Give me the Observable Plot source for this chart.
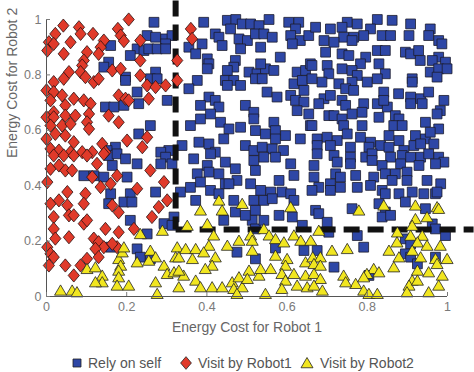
<!DOCTYPE html>
<html><head><meta charset="utf-8">
<script src="https://cdn.jsdelivr.net/npm/d3@7"></script>
<script src="https://cdn.jsdelivr.net/npm/@observablehq/plot@0.6"></script>
<style>
body{margin:0;background:#fff;font-family:"Liberation Sans",Arial,Helvetica,sans-serif;}
#chart svg{overflow:visible;display:block;}
#legend svg{display:block;}
</style></head><body>
<div id="chart"></div>
<div id="legend"></div>
<script>
const xTicks = [0, 0.2, 0.4, 0.6, 0.8, 1];
const yTicks = [0, 0.2, 0.4, 0.6, 0.8, 1];
const xLabel = "Energy Cost for Robot 1";
const yLabel = "Energy Cost for Robot 2";
const seriesNames = ["Rely on self", "Visit by Robot1", "Visit by Robot2"];

// decision boundary (thick dashed line)
const boundaryX = [0.322, 0.322, 0.322, 1.065];
const boundaryY = [1.069, 0.242, 0.242, 0.242];
const boundarySeg = ["v", "v", "h", "h"];

// Rely on self (blue squares)
const relyOnSelf = [
[0.268,0.990],[0.251,0.942],[0.272,0.936],[0.297,0.930],[0.313,0.942],[0.297,0.912],[0.226,0.894],[0.243,0.888],[0.255,0.894],[0.276,0.894],[0.297,0.894],[0.209,0.870],[0.160,0.906],[0.155,0.846],[0.143,0.828],[0.197,0.792],[0.197,0.780],[0.272,0.810],[0.259,0.786],[0.276,0.786],[0.226,0.738],[0.301,0.708],[0.230,0.696],[0.147,0.684],[0.168,0.684],[0.193,0.690],[0.259,0.617],[0.230,0.587],[0.305,0.527],[0.285,0.521],[0.172,0.539],[0.151,0.527],
[0.392,0.990],[0.451,0.997],[0.472,1.000],[0.488,0.984],[0.509,0.984],[0.530,0.978],[0.555,1.000],[0.604,0.990],[0.629,0.990],[0.621,0.966],[0.421,0.948],[0.430,0.936],[0.459,0.966],[0.480,0.930],[0.501,0.924],[0.521,0.948],[0.542,0.948],[0.563,0.936],[0.609,0.942],[0.633,0.924],[0.654,0.942],[0.388,0.912],[0.438,0.906],[0.484,0.894],[0.534,0.900],[0.613,0.912],[0.355,0.900],[0.372,0.876],[0.401,0.858],[0.405,0.840],[0.401,0.822],[0.471,0.852],[0.467,0.828],[0.451,0.816],[0.505,0.810],[0.525,0.804],[0.546,0.822],[0.534,0.840],[0.567,0.816],[0.583,0.864],[0.625,0.810],[0.646,0.816],[0.658,0.840],[0.376,0.780],[0.355,0.750],[0.446,0.780],[0.467,0.780],[0.451,0.762],[0.484,0.762],[0.521,0.786],[0.538,0.786],[0.550,0.738],[0.617,0.768],[0.638,0.780],[0.642,0.744],[0.609,0.726],[0.621,0.708],[0.642,0.702],[0.575,0.720],[0.405,0.720],[0.421,0.708],[0.384,0.690],[0.430,0.684],[0.409,0.659],[0.496,0.690],[0.517,0.665],[0.517,0.641],[0.384,0.641],[0.434,0.629],[0.359,0.617],[0.455,0.605],[0.484,0.611],[0.442,0.569],[0.521,0.599],[0.546,0.587],[0.567,0.629],[0.571,0.599],[0.571,0.569],[0.596,0.581],[0.633,0.569],[0.658,0.617],[0.654,0.659],[0.625,0.671],[0.338,0.545],[0.380,0.557],[0.405,0.551],[0.496,0.545],[0.517,0.527],[0.538,0.539],[0.563,0.533],[0.421,0.521],[0.591,0.527],
[0.825,1.000],[0.862,0.997],[0.908,0.984],[0.750,0.990],[0.775,0.984],[0.671,0.972],[0.708,0.966],[0.737,0.972],[0.808,0.966],[0.791,0.942],[0.766,0.936],[0.741,0.936],[0.837,0.942],[0.858,0.942],[0.904,0.942],[0.957,0.966],[0.953,0.942],[0.978,0.924],[0.986,0.912],[0.692,0.924],[0.717,0.918],[0.762,0.924],[0.696,0.882],[0.737,0.876],[0.754,0.870],[0.825,0.888],[0.845,0.888],[0.895,0.882],[0.908,0.876],[0.928,0.888],[0.932,0.852],[0.796,0.864],[0.783,0.840],[0.829,0.840],[0.978,0.864],[0.962,0.852],[0.995,0.846],[0.957,0.810],[0.978,0.822],[0.999,0.822],[0.974,0.792],[0.662,0.834],[0.700,0.834],[0.704,0.804],[0.737,0.822],[0.762,0.816],[0.775,0.798],[0.845,0.804],[0.687,0.774],[0.729,0.768],[0.762,0.774],[0.800,0.774],[0.825,0.786],[0.912,0.786],[0.912,0.774],[0.662,0.786],[0.746,0.750],[0.766,0.744],[0.841,0.738],[0.878,0.732],[0.908,0.720],[0.933,0.714],[0.953,0.738],[0.991,0.708],[0.908,0.696],[0.937,0.696],[0.982,0.671],[0.974,0.659],[0.692,0.714],[0.679,0.696],[0.708,0.726],[0.737,0.708],[0.746,0.690],[0.791,0.696],[0.825,0.696],[0.850,0.684],[0.841,0.708],[0.787,0.665],[0.762,0.659],[0.704,0.653],[0.717,0.653],[0.737,0.641],[0.829,0.647],[0.870,0.653],[0.879,0.641],[0.866,0.617],[0.887,0.617],[0.945,0.629],[0.978,0.605],[0.662,0.617],[0.741,0.617],[0.787,0.617],[0.675,0.569],[0.700,0.575],[0.725,0.563],[0.750,0.587],[0.783,0.575],[0.808,0.557],[0.833,0.545],[0.854,0.581],[0.879,0.563],[0.920,0.581],[0.945,0.569],[0.957,0.593],[0.966,0.551],[0.916,0.545],[0.675,0.545],[0.708,0.545],[0.758,0.539],[0.804,0.539],[0.854,0.539],[0.891,0.527],[0.933,0.551],
[0.155,0.509],[0.176,0.515],[0.164,0.473],[0.197,0.497],[0.226,0.479],[0.093,0.436],[0.118,0.436],[0.143,0.431],[0.201,0.431],[0.160,0.371],[0.209,0.371],[0.193,0.341],[0.213,0.341],[0.155,0.335],[0.272,0.377],[0.318,0.287],[0.293,0.263],[0.313,0.257],[0.209,0.275],[0.251,0.226],[0.226,0.172],[0.160,0.178],[0.234,0.142],[0.259,0.136],[0.297,0.503],[0.313,0.479],[0.285,0.479],
[0.367,0.497],[0.409,0.515],[0.446,0.485],[0.471,0.461],[0.401,0.473],[0.376,0.443],[0.384,0.413],[0.405,0.449],[0.430,0.443],[0.446,0.407],[0.475,0.419],[0.455,0.407],[0.359,0.394],[0.409,0.383],[0.430,0.371],[0.467,0.347],[0.517,0.491],[0.542,0.503],[0.521,0.455],[0.571,0.503],[0.609,0.479],[0.617,0.437],[0.580,0.419],[0.509,0.407],[0.534,0.383],[0.559,0.377],[0.587,0.377],[0.609,0.371],[0.517,0.347],[0.542,0.347],[0.563,0.353],[0.617,0.347],[0.521,0.311],[0.513,0.275],[0.521,0.244],[0.496,0.293],[0.542,0.275],[0.471,0.305],[0.442,0.275],[0.613,0.287],[0.638,0.257],[0.580,0.293],[0.372,0.347],[0.571,0.175],[0.475,0.160],[0.521,0.136],[0.642,0.166],[0.334,0.377],
[0.675,0.515],[0.717,0.509],[0.758,0.503],[0.796,0.503],[0.812,0.515],[0.858,0.503],[0.887,0.509],[0.908,0.503],[0.933,0.503],[0.953,0.515],[0.978,0.503],[0.991,0.485],[0.970,0.479],[0.929,0.473],[0.883,0.479],[0.837,0.473],[0.812,0.491],[0.725,0.485],[0.758,0.479],[0.667,0.473],[0.667,0.431],[0.721,0.443],[0.733,0.431],[0.771,0.437],[0.816,0.431],[0.845,0.443],[0.870,0.443],[0.899,0.449],[0.862,0.419],[0.899,0.419],[0.949,0.419],[0.983,0.407],[0.708,0.407],[0.679,0.394],[0.662,0.383],[0.708,0.383],[0.733,0.394],[0.775,0.394],[0.808,0.401],[0.837,0.383],[0.845,0.371],[0.879,0.371],[0.912,0.377],[0.941,0.371],[0.970,0.371],[0.974,0.377],[0.895,0.341],[0.829,0.335],[0.845,0.305],[0.837,0.287],[0.858,0.293],[0.671,0.311],[0.679,0.299],[0.762,0.317],[0.945,0.317],[0.962,0.262],[0.970,0.244],[0.700,0.268],[0.704,0.232],[0.775,0.220],[0.791,0.178],[0.675,0.166],[0.717,0.106],[0.804,0.076],[0.895,0.208],[0.908,0.190],[0.895,0.154],[0.908,0.142],[0.925,0.118],[0.970,0.142],[0.995,0.220]
];

// Visit by Robot1 (red diamonds)
const visitByRobot1 = [
[0.205,1.000],[0.042,0.978],[0.022,0.948],[0.081,0.972],[0.085,0.948],[0.116,0.948],[0.178,0.966],[0.185,0.942],[0.006,0.918],[0.018,0.912],[0.060,0.918],[0.143,0.924],[0.135,0.900],[0.193,0.922],[0.002,0.888],[0.043,0.876],[0.101,0.882],[0.130,0.876],[0.234,0.924],[0.093,0.852],[0.089,0.834],[0.234,0.852],[0.056,0.810],[0.043,0.786],[0.085,0.810],[0.097,0.792],[0.164,0.816],[0.185,0.822],[0.118,0.774],[0.130,0.786],[0.234,0.798],[0.251,0.762],[0.272,0.756],[0.297,0.762],[0.018,0.774],[0.000,0.744],[0.018,0.738],[0.039,0.726],[0.068,0.714],[0.010,0.708],[0.047,0.690],[0.093,0.708],[0.110,0.696],[0.180,0.726],[0.197,0.714],[0.205,0.708],[0.255,0.714],[0.018,0.665],[0.000,0.647],[0.018,0.647],[0.047,0.653],[0.072,0.653],[0.106,0.659],[0.155,0.653],[0.180,0.629],[0.010,0.617],[0.039,0.617],[0.060,0.623],[0.101,0.629],[0.106,0.605],[0.022,0.587],[0.047,0.581],[0.000,0.569],[0.068,0.557],[0.139,0.551],[0.201,0.563],[0.239,0.539],[0.251,0.575],[0.114,0.521],[0.010,0.533],[0.031,0.527],[0.060,0.521],[0.089,0.521],[0.147,0.521],[0.326,0.852],[0.326,0.780],[0.360,0.966],[0.363,0.930],
[0.018,0.509],[0.043,0.509],[0.068,0.509],[0.101,0.509],[0.143,0.515],[0.010,0.461],[0.031,0.473],[0.047,0.455],[0.064,0.455],[0.002,0.413],[0.114,0.431],[0.135,0.395],[0.160,0.407],[0.176,0.436],[0.126,0.479],[0.052,0.377],[0.097,0.371],[0.010,0.335],[0.031,0.347],[0.052,0.329],[0.093,0.335],[0.164,0.329],[0.180,0.304],[0.226,0.389],[0.259,0.455],[0.293,0.413],[0.280,0.323],[0.301,0.347],[0.263,0.287],[0.018,0.287],[0.056,0.293],[0.068,0.293],[0.093,0.263],[0.101,0.275],[0.018,0.244],[0.147,0.244],[0.180,0.232],[0.218,0.244],[0.022,0.209],[0.056,0.214],[0.118,0.209],[0.130,0.196],[0.143,0.178],[0.122,0.172],[0.002,0.178],[0.010,0.154],[0.018,0.142],[0.006,0.112],[0.047,0.112],[0.085,0.112],[0.101,0.136],[0.130,0.142],[0.176,0.178],[0.068,0.076],[0.164,0.190]
];

// Visit by Robot2 (yellow triangles)
const visitByRobot2 = [
[0.035,0.022],[0.064,0.022],[0.076,0.016],[0.101,0.100],[0.122,0.106],[0.139,0.076],[0.139,0.052],[0.180,0.136],[0.189,0.160],[0.193,0.178],[0.185,0.112],[0.180,0.094],[0.180,0.070],[0.176,0.040],[0.205,0.040],[0.226,0.124],[0.259,0.166],[0.272,0.142],[0.255,0.130],[0.289,0.238],[0.234,0.226],[0.293,0.112],[0.301,0.082],[0.272,0.052],[0.276,0.010],[0.326,0.178],[0.322,0.142],[0.318,0.088],[0.122,0.052],
[0.430,0.347],[0.384,0.311],[0.438,0.311],[0.488,0.335],[0.609,0.323],[0.351,0.256],[0.401,0.262],[0.417,0.221],[0.405,0.184],[0.451,0.184],[0.480,0.202],[0.509,0.221],[0.513,0.202],[0.542,0.244],[0.555,0.221],[0.571,0.208],[0.592,0.196],[0.617,0.221],[0.634,0.202],[0.659,0.202],[0.347,0.172],[0.372,0.172],[0.392,0.160],[0.421,0.142],[0.364,0.136],[0.330,0.142],[0.413,0.112],[0.396,0.100],[0.513,0.166],[0.571,0.148],[0.600,0.136],[0.596,0.112],[0.646,0.124],[0.664,0.142],[0.342,0.076],[0.372,0.058],[0.384,0.034],[0.413,0.034],[0.438,0.034],[0.463,0.052],[0.467,0.028],[0.480,0.070],[0.488,0.034],[0.505,0.094],[0.501,0.064],[0.530,0.076],[0.534,0.100],[0.559,0.100],[0.546,0.010],[0.587,0.082],[0.596,0.058],[0.617,0.082],[0.587,0.028],[0.625,0.040],[0.646,0.076],[0.650,0.034],[0.330,0.094],[0.330,0.034],[0.475,0.010],
[0.779,0.311],[0.841,0.329],[0.920,0.329],[0.974,0.323],[0.978,0.317],[0.920,0.280],[0.949,0.287],[0.912,0.256],[0.875,0.232],[0.908,0.220],[0.937,0.220],[0.679,0.238],[0.874,0.196],[0.925,0.196],[0.949,0.184],[0.982,0.184],[0.712,0.166],[0.750,0.172],[0.854,0.166],[0.879,0.142],[0.912,0.166],[0.933,0.142],[0.970,0.136],[0.974,0.118],[0.999,0.136],[0.683,0.142],[0.667,0.118],[0.683,0.112],[0.866,0.106],[0.925,0.094],[0.953,0.088],[0.987,0.076],[0.816,0.100],[0.829,0.088],[0.799,0.082],[0.741,0.076],[0.667,0.082],[0.683,0.064],[0.771,0.046],[0.791,0.070],[0.746,0.052],[0.912,0.058],[0.904,0.040],[0.925,0.058],[0.978,0.040],[0.667,0.040],[0.688,0.022],[0.791,0.022],[0.804,0.010],[0.825,0.010],[0.899,0.016],[0.953,0.016]
];

const colors = {blue: "#2e47a6", red: "#e03a2a", yellow: "#f1e620"};
const outline = "#1c1c2c";

// custom marker shapes (size = pi * r^2)
const squareSym = {draw(c, s){const r=Math.sqrt(s/Math.PI);c.moveTo(-r,-r);c.lineTo(r,-r);c.lineTo(r,r);c.lineTo(-r,r);c.closePath();}};
const diamondSym = {draw(c, s){const r=Math.sqrt(s/Math.PI);c.moveTo(0,-1.18*r);c.lineTo(r,0);c.lineTo(0,1.18*r);c.lineTo(-r,0);c.closePath();}};
const triangleSym = {draw(c, s){const r=Math.sqrt(s/Math.PI);c.moveTo(0,-1.1*r);c.lineTo(1.2*r,0.95*r);c.lineTo(-1.2*r,0.95*r);c.closePath();}};

const boundary = boundaryX.map((x, i) => ({x, y: boundaryY[i], seg: boundarySeg[i]}));

const chart = Plot.plot({
  width: 474,
  height: 340,
  marginLeft: 46,
  marginRight: 27,
  marginTop: 19,
  marginBottom: 44,
  style: {fontFamily: "'Liberation Sans', Arial, Helvetica, sans-serif", background: "#fff", overflow: "visible"},
  x: {domain: [0, 1]},
  y: {domain: [0, 1]},
  marks: [
    Plot.dot(relyOnSelf, {x: d => d[0], y: d => d[1], symbol: squareSym, r: 4.9, fill: colors.blue, stroke: outline, strokeWidth: 0.8}),
    Plot.line(boundary, {x: "x", y: "y", z: "seg", stroke: "#111", strokeWidth: 6, strokeDasharray: "16,8", strokeLinecap: "butt"}),
    Plot.dot(visitByRobot1, {x: d => d[0], y: d => d[1], symbol: diamondSym, r: 5.6, fill: colors.red, stroke: "#2a1010", strokeWidth: 0.8}),
    Plot.dot(visitByRobot2, {x: d => d[0], y: d => d[1], symbol: triangleSym, r: 5, fill: colors.yellow, stroke: "#222", strokeWidth: 0.8}),
    Plot.ruleY([0], {stroke: "#555", strokeWidth: 1}),
    Plot.ruleX([0], {stroke: "#555", strokeWidth: 1}),
    Plot.axisX(xTicks, {tickSize: -4, tickPadding: 10, tickFormat: d => String(d), color: "#7a7a7a", fontSize: 12.5, label: null}),
    Plot.axisY(yTicks, {tickSize: -4, tickPadding: 9, tickFormat: d => String(d), color: "#7a7a7a", fontSize: 12.5, label: null}),
    Plot.text([xLabel], {text: d => d, frameAnchor: "bottom", dy: 35, fontSize: 14, fill: "#666"}),
    Plot.text([yLabel], {text: d => d, frameAnchor: "left", rotate: -90, dx: -34, fontSize: 14, fill: "#666"})
  ]
});
document.getElementById("chart").appendChild(chart);

// legend below the chart
const leg = d3.select("#legend").append("svg").attr("width", 474).attr("height", 32)
  .style("font-family", "'Liberation Sans', Arial, Helvetica, sans-serif");
const cy = 23;
const items = [
  {name: seriesNames[0], sym: squareSym, r: 4, fill: colors.blue, sx: 77, tx: 88},
  {name: seriesNames[1], sym: diamondSym, r: 5.4, fill: colors.red, sx: 186, tx: 198},
  {name: seriesNames[2], sym: triangleSym, r: 5, fill: colors.yellow, sx: 307, tx: 320}
];
items.forEach(it => {
  leg.append("path").attr("d", d3.symbol(it.sym, Math.PI * it.r * it.r)())
    .attr("transform", `translate(${it.sx},${cy})`)
    .attr("fill", it.fill).attr("stroke", "#222").attr("stroke-width", 0.8);
  leg.append("text").attr("x", it.tx).attr("y", cy).attr("dy", "0.35em")
    .attr("font-size", 14).attr("fill", "#555").text(it.name);
});
</script>
</body></html>
